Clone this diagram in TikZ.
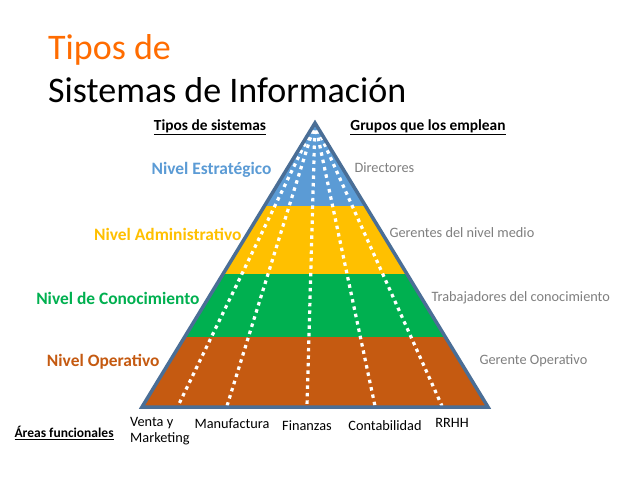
\documentclass[tikz,border=0pt]{standalone}
\usepackage{fontspec}
\setmainfont{Carlito}
\definecolor{cblue}{HTML}{5B9BD5}
\definecolor{cyel}{HTML}{FFC000}
\definecolor{cgreen}{HTML}{00B050}
\definecolor{corange}{HTML}{C55A11}
\definecolor{cedge}{HTML}{4A6E96}
\definecolor{cgray}{HTML}{7F7F7F}
\begin{document}
\begin{tikzpicture}[x=1pt,y=-1pt,
  lvl/.style={font=\fontsize{17.4}{20}\selectfont\bfseries,anchor=east},
  grp/.style={font=\fontsize{14.3}{16}\selectfont,text=cgray,anchor=west},
  area/.style={font=\fontsize{14.3}{16.5}\selectfont,anchor=north,align=left,inner sep=1pt},
  head/.style={font=\fontsize{15.4}{17}\selectfont\bfseries},
  dots/.style={white,line width=3.2pt,dash pattern=on 3.5pt off 4pt}]
\useasboundingbox (0,0) rectangle (638,479);
\fill[white] (0,0) rectangle (638,479);
\node[anchor=west,text=orange!85!red,font=\fontsize{36}{40}\selectfont,inner sep=0] (t1) at (48,50) {Tipos de};
\node[anchor=west,font=\fontsize{36}{40}\selectfont,inner sep=0] (t2) at (48,90) {Sistemas de Información};
\coordinate (A) at (315,123);
\coordinate (L) at (142,407);
\coordinate (R) at (488,407);
\begin{scope}
\clip (A) -- (L) -- (R) -- cycle;
\fill[cblue] (100,110) rectangle (520,206);
\fill[cyel] (100,206) rectangle (520,274);
\fill[cgreen] (100,274) rectangle (520,337);
\fill[corange] (100,337) rectangle (520,410);
\end{scope}
\coordinate (b1) at (178,406);
\coordinate (b2) at (227,406);
\coordinate (b3) at (307,406);
\coordinate (b4) at (375,406);
\coordinate (b5) at (442,406);
\foreach \b in {b1,b2,b3,b4,b5} \draw[dots] (A) -- (\b);
\draw[cedge,line width=3.5pt,line join=miter] (A) -- (L) -- (R) -- cycle;
\node[head] (h1) at (210,127) {\underline{Tipos de sistemas}};
\node[head] (h2) at (428,127) {\underline{Grupos que los emplean}};
\node[lvl,text=cblue] (n1) at (275,170) {Nivel Estratégico};
\node[lvl,text=cyel] (n2) at (245,234) {Nivel Administrativo};
\node[lvl,text=cgreen] (n3) at (203,298) {Nivel de Conocimiento};
\node[lvl,text=corange] (n4) at (163,362) {Nivel Operativo};
\node[grp] (g1) at (351,168) {Directores};
\node[grp] (g2) at (386,233) {Gerentes del nivel medio};
\node[grp] (g3) at (428,298) {Trabajadores del conocimiento};
\node[grp] (g4) at (476,361) {Gerente Operativo};
\node[anchor=west,font=\fontsize{13.5}{15}\selectfont\bfseries] (af) at (11,433) {\underline{Áreas funcionales}};
\node[area,anchor=north west] (a1) at (129,416) {Venta y\\Marketing};
\node[area] (a2) at (232,417) {Manufactura};
\node[area] (a3) at (307,419) {Finanzas};
\node[area] (a4) at (385,419) {Contabilidad};
\node[area] (a5) at (452,417) {RRHH};
\end{tikzpicture}
\end{document}
